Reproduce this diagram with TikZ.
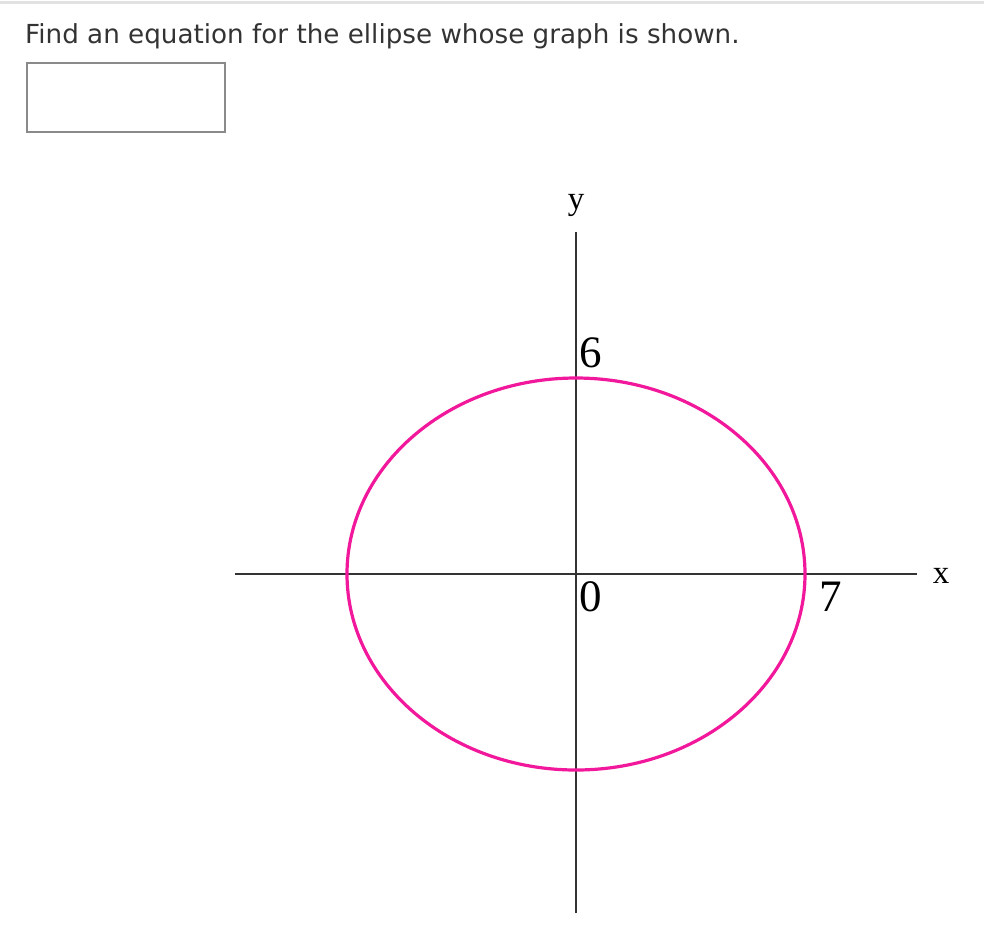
\documentclass[tikz,border=0pt]{standalone}
\usepackage{fontspec}
\setmainfont{Liberation Serif}
\newfontfamily\questionfont{DejaVu Sans}
\usetikzlibrary{positioning}

\definecolor{ellpink}{HTML}{F2189B}
\definecolor{textgrey}{HTML}{333333}
\definecolor{boxgrey}{HTML}{8A8A8A}
\definecolor{rulegrey}{HTML}{E2E2E2}

\begin{document}
\begin{tikzpicture}[x=1pt, y=-1pt,
    axis/.style={draw=black!80, line width=2pt},
    curve/.style={draw=ellpink, line width=3.2pt},
    numlabel/.style={font=\fontsize{45}{45}\selectfont, inner sep=0pt},
    varlabel/.style={font=\fontsize{33}{33}\selectfont, inner sep=0pt}]

    \useasboundingbox (0,0) rectangle (984,930);
    \draw[rulegrey, line width=3pt] (0,2) -- (984,2);

    \node[anchor=base west, inner sep=0pt, text=textgrey, font=\questionfont\fontsize{26.2}{26}\selectfont] (question) at (25,43) {Find an equation for the ellipse whose graph is shown.};
    \node[draw=boxgrey, line width=1.5pt, minimum width=198pt, minimum height=69pt, anchor=north west, inner sep=0pt] (answer) at (26,62) {};

    \coordinate (O) at (576,574);
    \coordinate (xleft) at (235,574);
    \coordinate (xright) at (917,574);
    \coordinate (ytop) at (576,232);
    \coordinate (ybottom) at (576,913);

    \draw[axis] (xleft) -- (xright);
    \draw[axis] (ybottom) -- (ytop);

    \draw[curve] (O) ellipse [x radius=229pt, y radius=196pt];

    \node[varlabel] (ylabel) at (576,205) {y};
    \node[varlabel] (xlabel) at (941,576) {x};
    \node[numlabel] (six) at (591,353) {6};
    \node[numlabel] (zero) at (591,597) {0};
    \node[numlabel] (seven) at (831,597) {7};

\end{tikzpicture}
\end{document}
